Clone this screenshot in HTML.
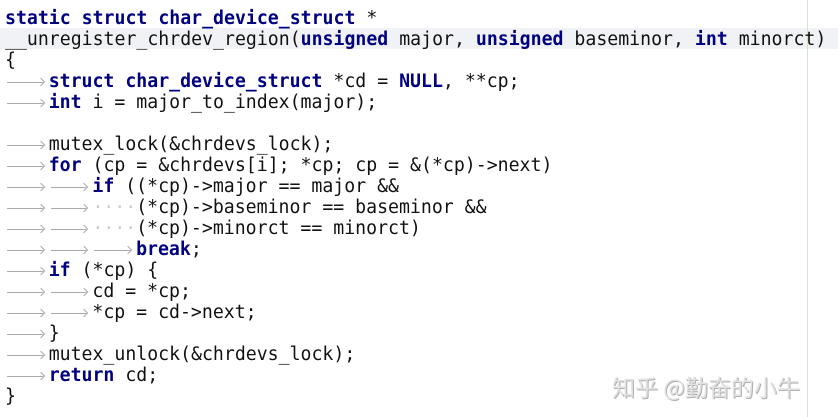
<!DOCTYPE html>
<html><head><meta charset="utf-8"><style>
body{margin:0;width:838px;height:417px;background:#fff;position:relative;overflow:hidden}
.l{position:absolute;left:5px;height:21px;line-height:21px;font-family:"DejaVu Sans Mono","Liberation Mono",monospace;font-size:18.2px;color:#111;white-space:pre;margin-top:1px}
b{color:#000080;font-weight:bold}
.t{display:inline-block;width:43.7px;height:21px;position:relative;vertical-align:top}
.t:before{content:"";position:absolute;left:2px;right:6px;top:11px;border-top:1px solid #aaa}
.t:after{content:"";position:absolute;right:5px;top:8px;width:5px;height:5px;border-top:1px solid #aaa;border-right:1px solid #aaa;transform:rotate(45deg)}
.d{color:#ccc}
</style></head><body>
<div style="position:absolute;left:0;top:28px;width:838px;height:21px;background:#f1f2f5"></div>
<div style="position:absolute;left:807px;top:0;width:1px;height:417px;background:#cfe3cf"></div>
<div class="l" style="top:7px"><b>static</b> <b>struct</b> <b>char_device_struct</b> *</div>
<div class="l" style="top:28px">__unregister_chrdev_region(<b>unsigned</b> major, <b>unsigned</b> baseminor, <b>int</b> minorct)</div>
<div class="l" style="top:49px">{</div>
<div class="l" style="top:70px"><span class="t"></span><b>struct</b> <b>char_device_struct</b> *cd = <b>NULL</b>, **cp;</div>
<div class="l" style="top:91px"><span class="t"></span><b>int</b> i = major_to_index(major);</div>
<div class="l" style="top:133px"><span class="t"></span>mutex_lock(&amp;chrdevs_lock);</div>
<div class="l" style="top:154px"><span class="t"></span><b>for</b> (cp = &amp;chrdevs[i]; *cp; cp = &amp;(*cp)-&gt;next)</div>
<div class="l" style="top:175px"><span class="t"></span><span class="t"></span><b>if</b> ((*cp)-&gt;major == major &amp;&amp;</div>
<div class="l" style="top:196px"><span class="t"></span><span class="t"></span><span class="d">····</span>(*cp)-&gt;baseminor == baseminor &amp;&amp;</div>
<div class="l" style="top:217px"><span class="t"></span><span class="t"></span><span class="d">····</span>(*cp)-&gt;minorct == minorct)</div>
<div class="l" style="top:238px"><span class="t"></span><span class="t"></span><span class="t"></span><b>break</b>;</div>
<div class="l" style="top:259px"><span class="t"></span><b>if</b> (*cp) {</div>
<div class="l" style="top:280px"><span class="t"></span><span class="t"></span>cd = *cp;</div>
<div class="l" style="top:301px"><span class="t"></span><span class="t"></span>*cp = cd-&gt;next;</div>
<div class="l" style="top:322px"><span class="t"></span>}</div>
<div class="l" style="top:343px"><span class="t"></span>mutex_unlock(&amp;chrdevs_lock);</div>
<div class="l" style="top:364px"><span class="t"></span><b>return</b> cd;</div>
<div class="l" style="top:385px">}</div>
<div style="position:absolute;left:612px;top:369px;font-family:'Noto Sans CJK SC',sans-serif;font-size:23px;color:#e2e2e2;text-shadow:1px 1px 0 #b0b0b0;white-space:nowrap">知乎 @勤奋的小牛</div>
</body></html>
